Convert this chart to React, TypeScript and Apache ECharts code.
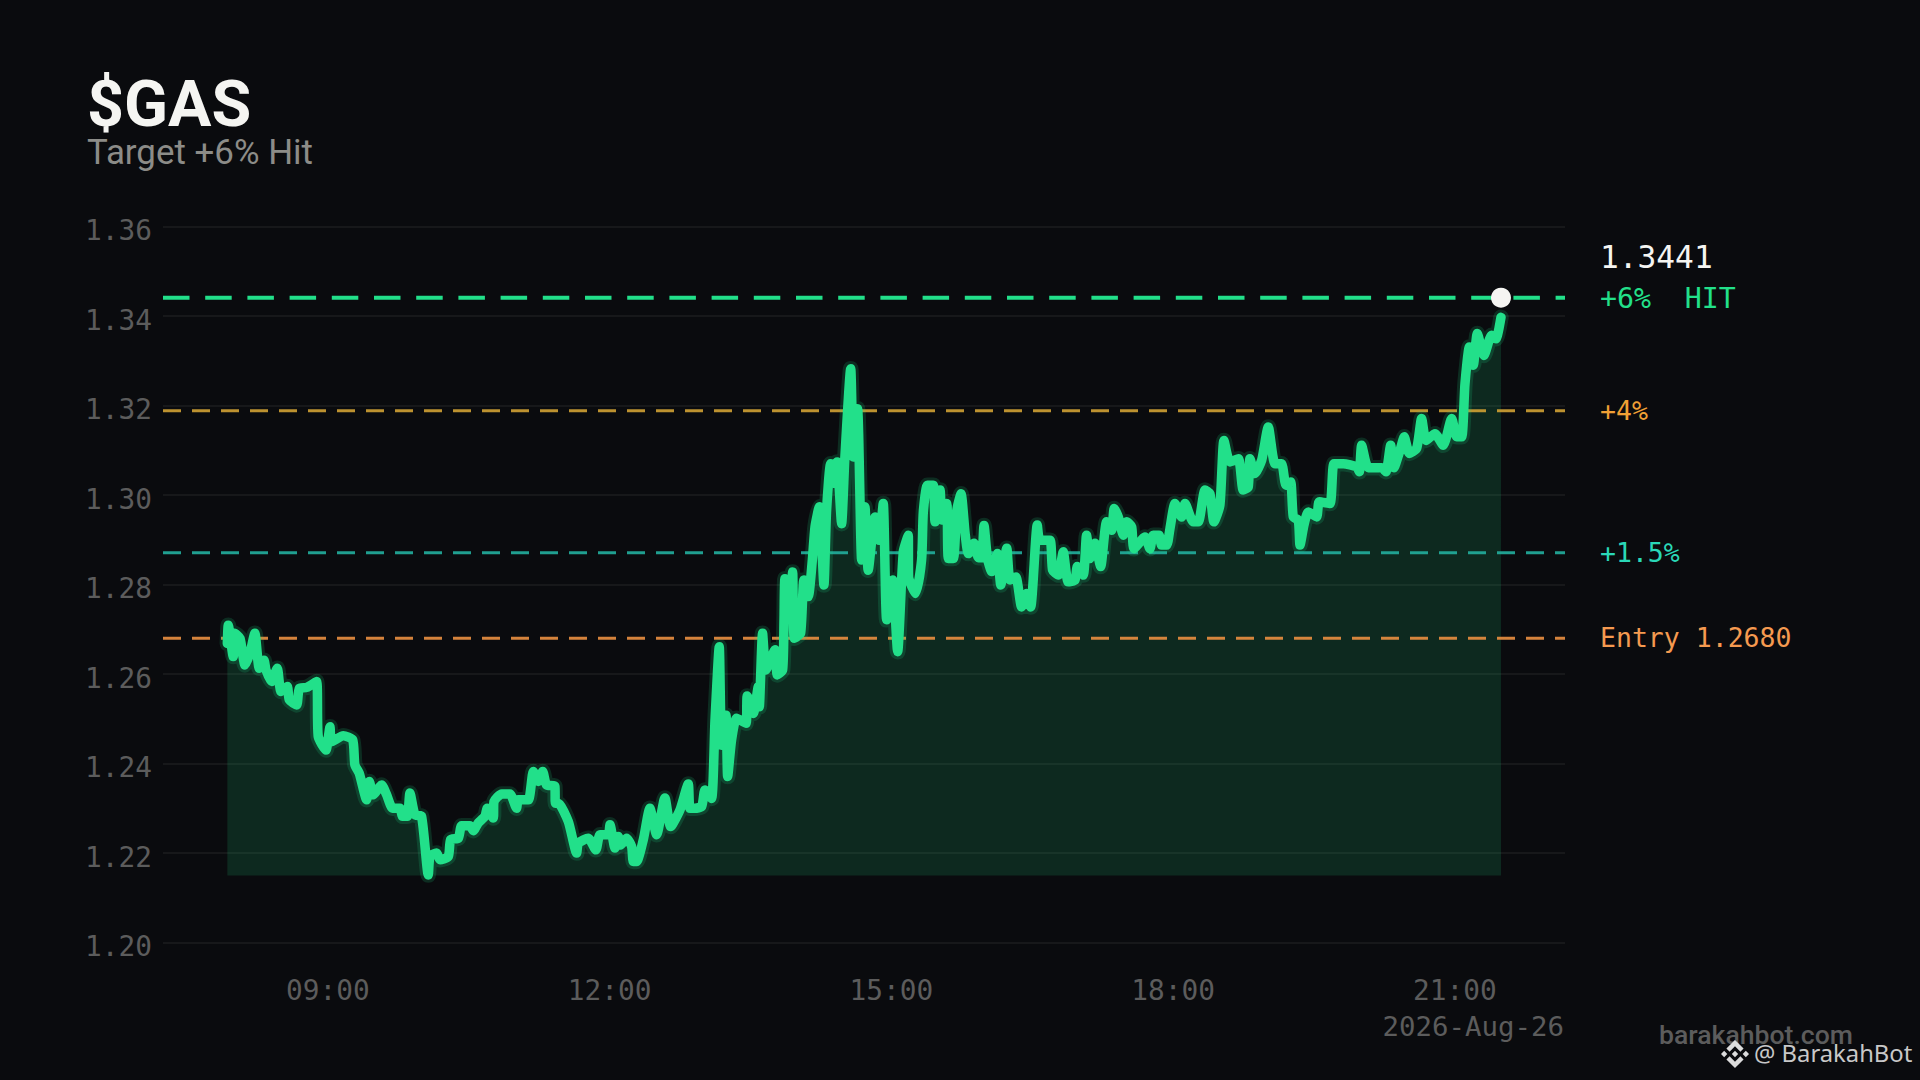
import React, { useEffect, useRef } from "react";
import * as echarts from "echarts";

const minutes = [
  475.7, 476.3, 479.5, 480.4, 483.8, 487.0, 490.1, 493.3, 496.1, 499.1,
  500.4, 504.0, 507.6, 510.0, 514.0, 515.3, 520.0, 521.7, 526.4, 532.7,
  533.8, 538.7, 541.3, 542.3, 549.8, 555.8, 557.2, 560.0, 564.7, 566.4,
  569.0, 574.3, 577.5, 581.3, 586.0, 587.7, 590.7, 592.4, 595.6, 599.8,
  604.1, 605.2, 609.4, 611.6, 616.9, 618.4, 623.3, 625.4, 630.7, 632.9,
  636.0, 640.3, 641.8, 645.6, 646.1, 651.0, 656.3, 660.5, 661.6, 668.0,
  671.2, 674.4, 677.2, 679.7, 685.0, 685.3, 687.2, 693.6, 698.9, 700.0,
  706.3, 711.2, 713.8, 719.1, 720.2, 723.4, 725.5, 727.0, 730.8, 734.0,
  735.1, 737.2, 741.5, 745.7, 750.0, 755.3, 759.0, 764.9, 770.2, 771.3,
  774.5, 778.8, 780.9, 785.1, 787.3, 790.0, 791.5, 794.3, 795.4, 797.9,
  801.1, 807.1, 807.9, 811.8, 815.0, 815.6, 817.7, 819.9, 825.6, 827.1,
  830.5, 831.4, 832.0, 835.2, 836.9, 838.0, 842.0, 844.1, 846.9, 849.5,
  851.2, 853.9, 856.9, 858.6, 861.2, 864.0, 865.4, 868.2, 870.3, 874.0,
  875.7, 878.4, 881.0, 883.1, 885.2, 889.5, 892.1, 894.8, 897.0, 900.8,
  904.0, 907.6, 910.8, 911.0, 915.5, 919.3, 920.4, 923.0, 926.8, 927.9,
  931.1, 932.2, 935.4, 936.4, 939.6, 941.8, 944.5, 947.1, 949.2, 952.8,
  955.6, 957.7, 959.2, 961.4, 964.1, 967.7, 969.9, 973.7, 975.8, 979.5,
  983.2, 986.4, 989.0, 993.2, 994.9, 1001.3, 1003.0, 1006.6, 1009.8, 1013.0,
  1017.3, 1018.8, 1022.6, 1024.7, 1026.9, 1030.1, 1033.7, 1037.5, 1040.7, 1042.4,
  1045.0, 1048.2, 1050.3, 1053.5, 1055.0, 1062.0, 1065.2, 1067.3, 1071.0, 1072.7,
  1075.9, 1078.0, 1081.2, 1085.4, 1087.6, 1092.9, 1096.1, 1100.4, 1103.5, 1106.1,
  1109.9, 1112.5, 1116.3, 1121.7, 1124.8, 1128.0, 1129.1, 1132.3, 1136.6, 1140.8,
  1145.1, 1149.3, 1152.1, 1155.1, 1156.8, 1160.0, 1161.1, 1163.6, 1166.4, 1171.7,
  1173.4, 1180.2, 1182.8, 1188.7, 1197.3, 1199.0, 1200.5, 1204.7, 1213.2, 1216.0,
  1219.0, 1221.1, 1225.0, 1227.7, 1230.9, 1235.6, 1238.8, 1241.6, 1247.3, 1252.6,
  1258.0, 1261.2, 1264.4, 1266.5, 1269.3, 1271.8, 1274.4, 1278.6, 1283.5, 1286.3,
  1289.5,
];

const prices = [
  1.2668, 1.2709, 1.2639, 1.2691, 1.2680, 1.2620, 1.2646, 1.2691, 1.2613, 1.2631,
  1.2609, 1.2583, 1.2613, 1.2561, 1.2572, 1.2542, 1.2531, 1.2568, 1.2570, 1.2583,
  1.2460, 1.2430, 1.2482, 1.2449, 1.2462, 1.2453, 1.2397, 1.2378, 1.2319, 1.2360,
  1.2330, 1.2352, 1.2330, 1.2300, 1.2300, 1.2282, 1.2282, 1.2334, 1.2285, 1.2282,
  1.2151, 1.2192, 1.2200, 1.2185, 1.2192, 1.2230, 1.2233, 1.2261, 1.2261, 1.2250,
  1.2267, 1.2282, 1.2300, 1.2278, 1.2315, 1.2332, 1.2332, 1.2300, 1.2319, 1.2319,
  1.2382, 1.2360, 1.2382, 1.2352, 1.2349, 1.2311, 1.2311, 1.2270, 1.2200, 1.2222,
  1.2233, 1.2207, 1.2241, 1.2241, 1.2263, 1.2211, 1.2237, 1.2218, 1.2233, 1.2215,
  1.2181, 1.2181, 1.2230, 1.2300, 1.2241, 1.2323, 1.2259, 1.2296, 1.2354, 1.2300,
  1.2300, 1.2304, 1.2341, 1.2322, 1.2497, 1.2661, 1.2441, 1.2508, 1.2371, 1.2453,
  1.2501, 1.2490, 1.2551, 1.2512, 1.2572, 1.2527, 1.2691, 1.2609, 1.2654, 1.2598,
  1.2609, 1.2721, 1.2813, 1.2750, 1.2828, 1.2680, 1.2691, 1.2810, 1.2773, 1.2855,
  1.2929, 1.2974, 1.2799, 1.2966, 1.3070, 1.3026, 1.3074, 1.2936, 1.3085, 1.3282,
  1.3085, 1.3193, 1.2855, 1.2974, 1.2832, 1.2951, 1.2899, 1.2981, 1.2721, 1.2810,
  1.2650, 1.2873, 1.2910, 1.2817, 1.2780, 1.2855, 1.2962, 1.3022, 1.3022, 1.2940,
  1.3011, 1.2944, 1.2981, 1.2858, 1.2858, 1.2966, 1.3003, 1.2914, 1.2869, 1.2892,
  1.2860, 1.2860, 1.2932, 1.2858, 1.2829, 1.2869, 1.2799, 1.2881, 1.2810, 1.2817,
  1.2750, 1.2780, 1.2750, 1.2933, 1.2899, 1.2899, 1.2832, 1.2821, 1.2873, 1.2806,
  1.2810, 1.2840, 1.2821, 1.2910, 1.2858, 1.2892, 1.2840, 1.2940, 1.2921, 1.2970,
  1.2951, 1.2910, 1.2940, 1.2929, 1.2880, 1.2906, 1.2880, 1.2910, 1.2910, 1.2888,
  1.2888, 1.2925, 1.2981, 1.2951, 1.2981, 1.2940, 1.2940, 1.3011, 1.3003, 1.2940,
  1.2977, 1.3122, 1.3074, 1.3081, 1.3011, 1.3018, 1.3081, 1.3048, 1.3078, 1.3152,
  1.3070, 1.3070, 1.3022, 1.3029, 1.2951, 1.2944, 1.2888, 1.2933, 1.2962, 1.2951,
  1.2985, 1.2981, 1.3070, 1.3070, 1.3063, 1.3052, 1.3111, 1.3061, 1.3061, 1.3052,
  1.3111, 1.3061, 1.3100, 1.3130, 1.3093, 1.3104, 1.3171, 1.3122, 1.3137, 1.3111,
  1.3171, 1.3130, 1.3130, 1.3249, 1.3331, 1.3290, 1.3361, 1.3312, 1.3357, 1.3349,
  1.3397,
];

const tickMinutes = [540, 720, 900, 1080, 1260];
const axisMin = 434.6;
const axisMax = 1330.4;
const baseline = 1.215;
const lastPrice = 1.3441;
const lastMinute = 1289.5;
const levelNames = ["+6%", "+4%", "+1.5%", "Entry"];
const levelValues = [1.3441, 1.3188, 1.2871, 1.268];

const GREEN = "#22e08a";
const MONO = "'DejaVu Sans Mono', monospace";
const SMOOTH = 0.2;

echarts.graphic.registerShape(
  "binanceLogo",
  echarts.graphic.extendPath(
    "M16.624 13.9202l2.7175 2.7154-7.353 7.353-7.353-7.352 2.7175-2.7164 4.6355 4.6595 4.6356-4.6595zm4.6366-4.6366L24 12l-2.7154 2.7164L18.5682 12l2.6924-2.7164zm-9.272.001l2.7163 2.6914-2.7164 2.7174v-.001L9.2721 12l2.7164-2.7154zm-9.2722-.001L5.4088 12l-2.6914 2.6924L0 12l2.7164-2.7164zM11.9885.0115l7.353 7.329-2.7174 2.7154-4.6356-4.6356-4.6355 4.6595-2.7174-2.7154 7.353-7.353z",
    {}
  )
);

export default function App() {
  const ref = useRef<HTMLDivElement>(null);

  useEffect(() => {
    document.body.style.margin = "0";
    document.body.style.background = "#0a0b0e";
    const chart = echarts.init(ref.current!, null, { renderer: "svg", width: 1920, height: 1080 });
    const points = minutes.map((m, i) => [m, prices[i]]);
    const levelLine = (i: number, color: string, width: number, dash: number[], opacity: number) => ({
      type: "line",
      name: levelNames[i],
      data: [
        [axisMin, levelValues[i]],
        [axisMax, levelValues[i]],
      ],
      symbol: "none",
      silent: true,
      z: 3,
      lineStyle: { color, width, type: dash, opacity },
    });
    const sideText = (text: string, y: number, fill: string, fontSize: number) => ({
      type: "text",
      x: 1600,
      y,
      style: { text, fill, fontSize, fontFamily: MONO, verticalAlign: "middle" },
    });

    chart.setOption({
      animation: false,
      backgroundColor: "#0a0b0e",
      grid: { left: 163, right: 355, top: 226.5, height: 716, containLabel: false },
      xAxis: {
        type: "value",
        min: axisMin,
        max: axisMax,
        splitLine: { show: false },
        axisLine: { show: false },
        axisTick: { show: false },
        axisLabel: {
          customValues: tickMinutes,
          formatter: (v: number) => `${String(Math.round(v / 60)).padStart(2, "0")}:00`,
          color: "#5c5c5c",
          fontFamily: MONO,
          fontSize: 27.8,
          margin: 33.5,
        },
      },
      yAxis: {
        type: "value",
        min: 1.2,
        max: 1.36,
        interval: 0.02,
        axisLine: { show: false },
        axisTick: { show: false },
        splitLine: { lineStyle: { color: "#17181a", width: 2 } },
        axisLabel: {
          formatter: (v: number) => v.toFixed(2),
          color: "#5c5c5c",
          fontFamily: MONO,
          fontSize: 27.8,
          margin: 11,
          verticalAlign: "top",
          lineHeight: 8,
        },
      },
      series: [
        {
          type: "line",
          name: "area",
          data: points,
          symbol: "none",
          smooth: SMOOTH,
          silent: true,
          z: 2,
          lineStyle: { width: 0, opacity: 0 },
          areaStyle: { color: "rgba(34,224,138,0.14)", origin: baseline, opacity: 1 },
        },
        levelLine(0, GREEN, 4, [26.5, 15.7], 1),
        levelLine(1, "#c79a33", 3, [18, 11], 0.95),
        levelLine(2, "#22a898", 3, [18, 11], 0.95),
        levelLine(3, "#e08a3f", 3, [18, 11], 0.95),
        {
          type: "line",
          name: "glow",
          data: points,
          symbol: "none",
          smooth: SMOOTH,
          silent: true,
          z: 4,
          lineStyle: { color: GREEN, width: 15.5, opacity: 0.16, join: "round", cap: "round" },
        },
        {
          type: "line",
          name: "$GAS",
          data: points,
          symbol: "none",
          smooth: SMOOTH,
          silent: true,
          z: 5,
          lineStyle: { color: GREEN, width: 9.5, join: "round", cap: "round" },
        },
        {
          type: "scatter",
          name: "last",
          data: [[lastMinute, lastPrice]],
          symbol: "circle",
          symbolSize: 20,
          silent: true,
          z: 6,
          itemStyle: { color: "#f5f5f2", opacity: 1 },
        },
      ],
      graphic: [
        {
          type: "text",
          x: 87,
          y: 104,
          style: { text: "$GAS", fill: "#f5f5f2", fontSize: 64.6, fontWeight: 700, fontFamily: "Roboto", verticalAlign: "middle" },
        },
        {
          type: "text",
          x: 87,
          y: 152,
          style: { text: "Target +6% Hit", fill: "#8c8c88", fontSize: 34.9, fontFamily: "Roboto", verticalAlign: "middle" },
        },
        sideText("1.3441", 257, "#f5f5f2", 31.2),
        sideText("+6%  HIT", 298, GREEN, 28.2),
        sideText("+4%", 410.5, "#f0a035", 26.5),
        sideText("+1.5%", 552.5, "#2ad8b8", 26.5),
        sideText("Entry 1.2680", 637.5, "#f59a50", 26.5),
        {
          type: "text",
          x: 1564,
          y: 1026,
          style: { text: "2026-Aug-26", fill: "#5c5c5c", fontSize: 27.4, fontFamily: MONO, align: "right", verticalAlign: "middle" },
        },
        {
          type: "text",
          x: 1659,
          y: 1034,
          style: { text: "barakahbot.com", fill: "#5c5c5c", fontSize: 26.6, fontWeight: 500, fontFamily: "Roboto", verticalAlign: "middle" },
        },
        {
          type: "binanceLogo",
          x: 1721,
          y: 1040,
          scaleX: 28 / 24,
          scaleY: 28 / 24,
          style: { fill: "#dcdcdc" },
        },
        {
          type: "text",
          x: 1754,
          y: 1053,
          style: { text: "@ BarakahBot", fill: "#c8c8c8", fontSize: 23.8, fontFamily: "Noto Sans", verticalAlign: "middle" },
        },
      ],
    });
    return () => chart.dispose();
  }, []);

  return <div ref={ref} style={{ position: "absolute", left: 0, top: 0, width: 1920, height: 1080 }} />;
}
